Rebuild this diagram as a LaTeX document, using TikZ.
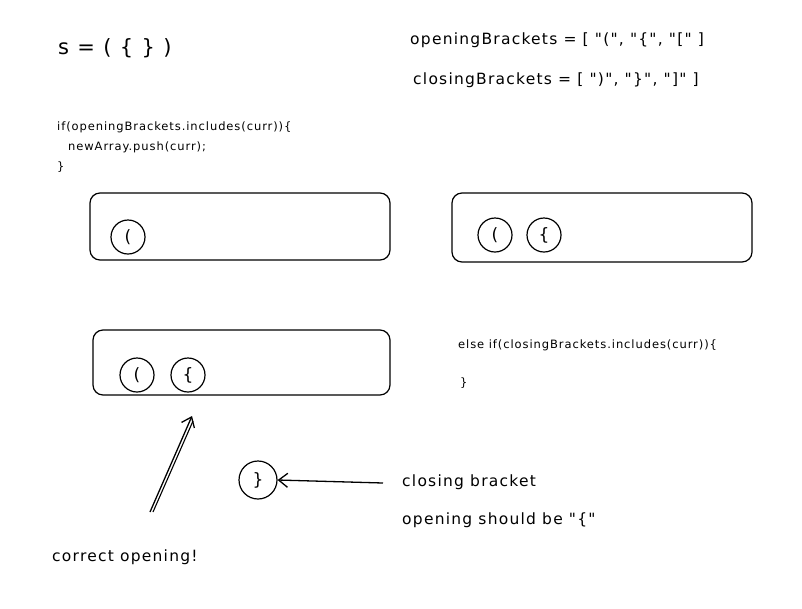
\documentclass[tikz,border=0pt]{standalone}
\usepackage{fontspec}
\setmainfont[LetterSpace=8,Ligatures=TeXOff]{DejaVu Sans}
\usetikzlibrary{arrows.meta}
\newcommand\dq{\char34\relax}
\begin{document}
\begin{tikzpicture}[x=1pt,y=-1pt,
  box/.style={draw,line width=1.2pt,rounded corners=10pt},
  br/.style={draw,circle,line width=1.2pt,minimum size=34pt,inner sep=0pt,font=\fontsize{17}{17}\selectfont},
  txt/.style={anchor=west,inner sep=0pt,font=\fontsize{15.5}{16}\selectfont},
  code/.style={anchor=west,inner sep=0pt,font=\fontsize{11.5}{12}\selectfont},
  arr/.style={line width=1.3pt,-{Straight Barb[length=9pt,width=14pt]}}]
\useasboundingbox (0,0) rectangle (802,608);
\node[txt,font=\fontsize{21}{22}\selectfont] (s) at (58,48) {s = ( \{ \} )};
\node[txt] (ob) at (410,40) {openingBrackets = [ \dq(\dq, \dq\{\dq, \dq[\dq\ ]};
\node[txt] (cb) at (413,80) {closingBrackets = [ \dq)\dq, \dq\}\dq, \dq]\dq\ ]};
\node[code] (c1) at (57,127) {if(openingBrackets.includes(curr))\{};
\node[code] (c2) at (68,147) {newArray.push(curr);};
\node[code] (c3) at (57,167) {\}};
\draw[box] (90,193) rectangle (390,260);
\node[br] (a1) at (128,237) {(};
\draw[box] (452,193) rectangle (752,262);
\node[br] (b1) at (495,235) {(};
\node[br] (b2) at (544,235) {\{};
\draw[box] (93,330) rectangle (390,395);
\node[br] (d1) at (137,375) {(};
\node[br] (d2) at (188,375) {\{};
\node[code] (e1) at (458,345) {else if(closingBrackets.includes(curr))\{};
\node[code] (e2) at (460,383) {\}};
\node[br,minimum size=38pt] (cl) at (258,480) {\}};
\coordinate (p1) at (383,483);
\draw[arr] (p1) -- (cl.east);
\node[txt] (t1) at (402,482) {closing bracket};
\node[txt] (t2) at (402,520) {opening should be \dq\{\dq};
\coordinate (q1) at (150,512);
\coordinate (q2) at (192,416);
\draw[arr] (q1) -- (q2);
\draw[line width=1.1pt] (153,512) -- (193,421);
\node[txt] (t3) at (52,557) {correct opening!};
\end{tikzpicture}
\end{document}
